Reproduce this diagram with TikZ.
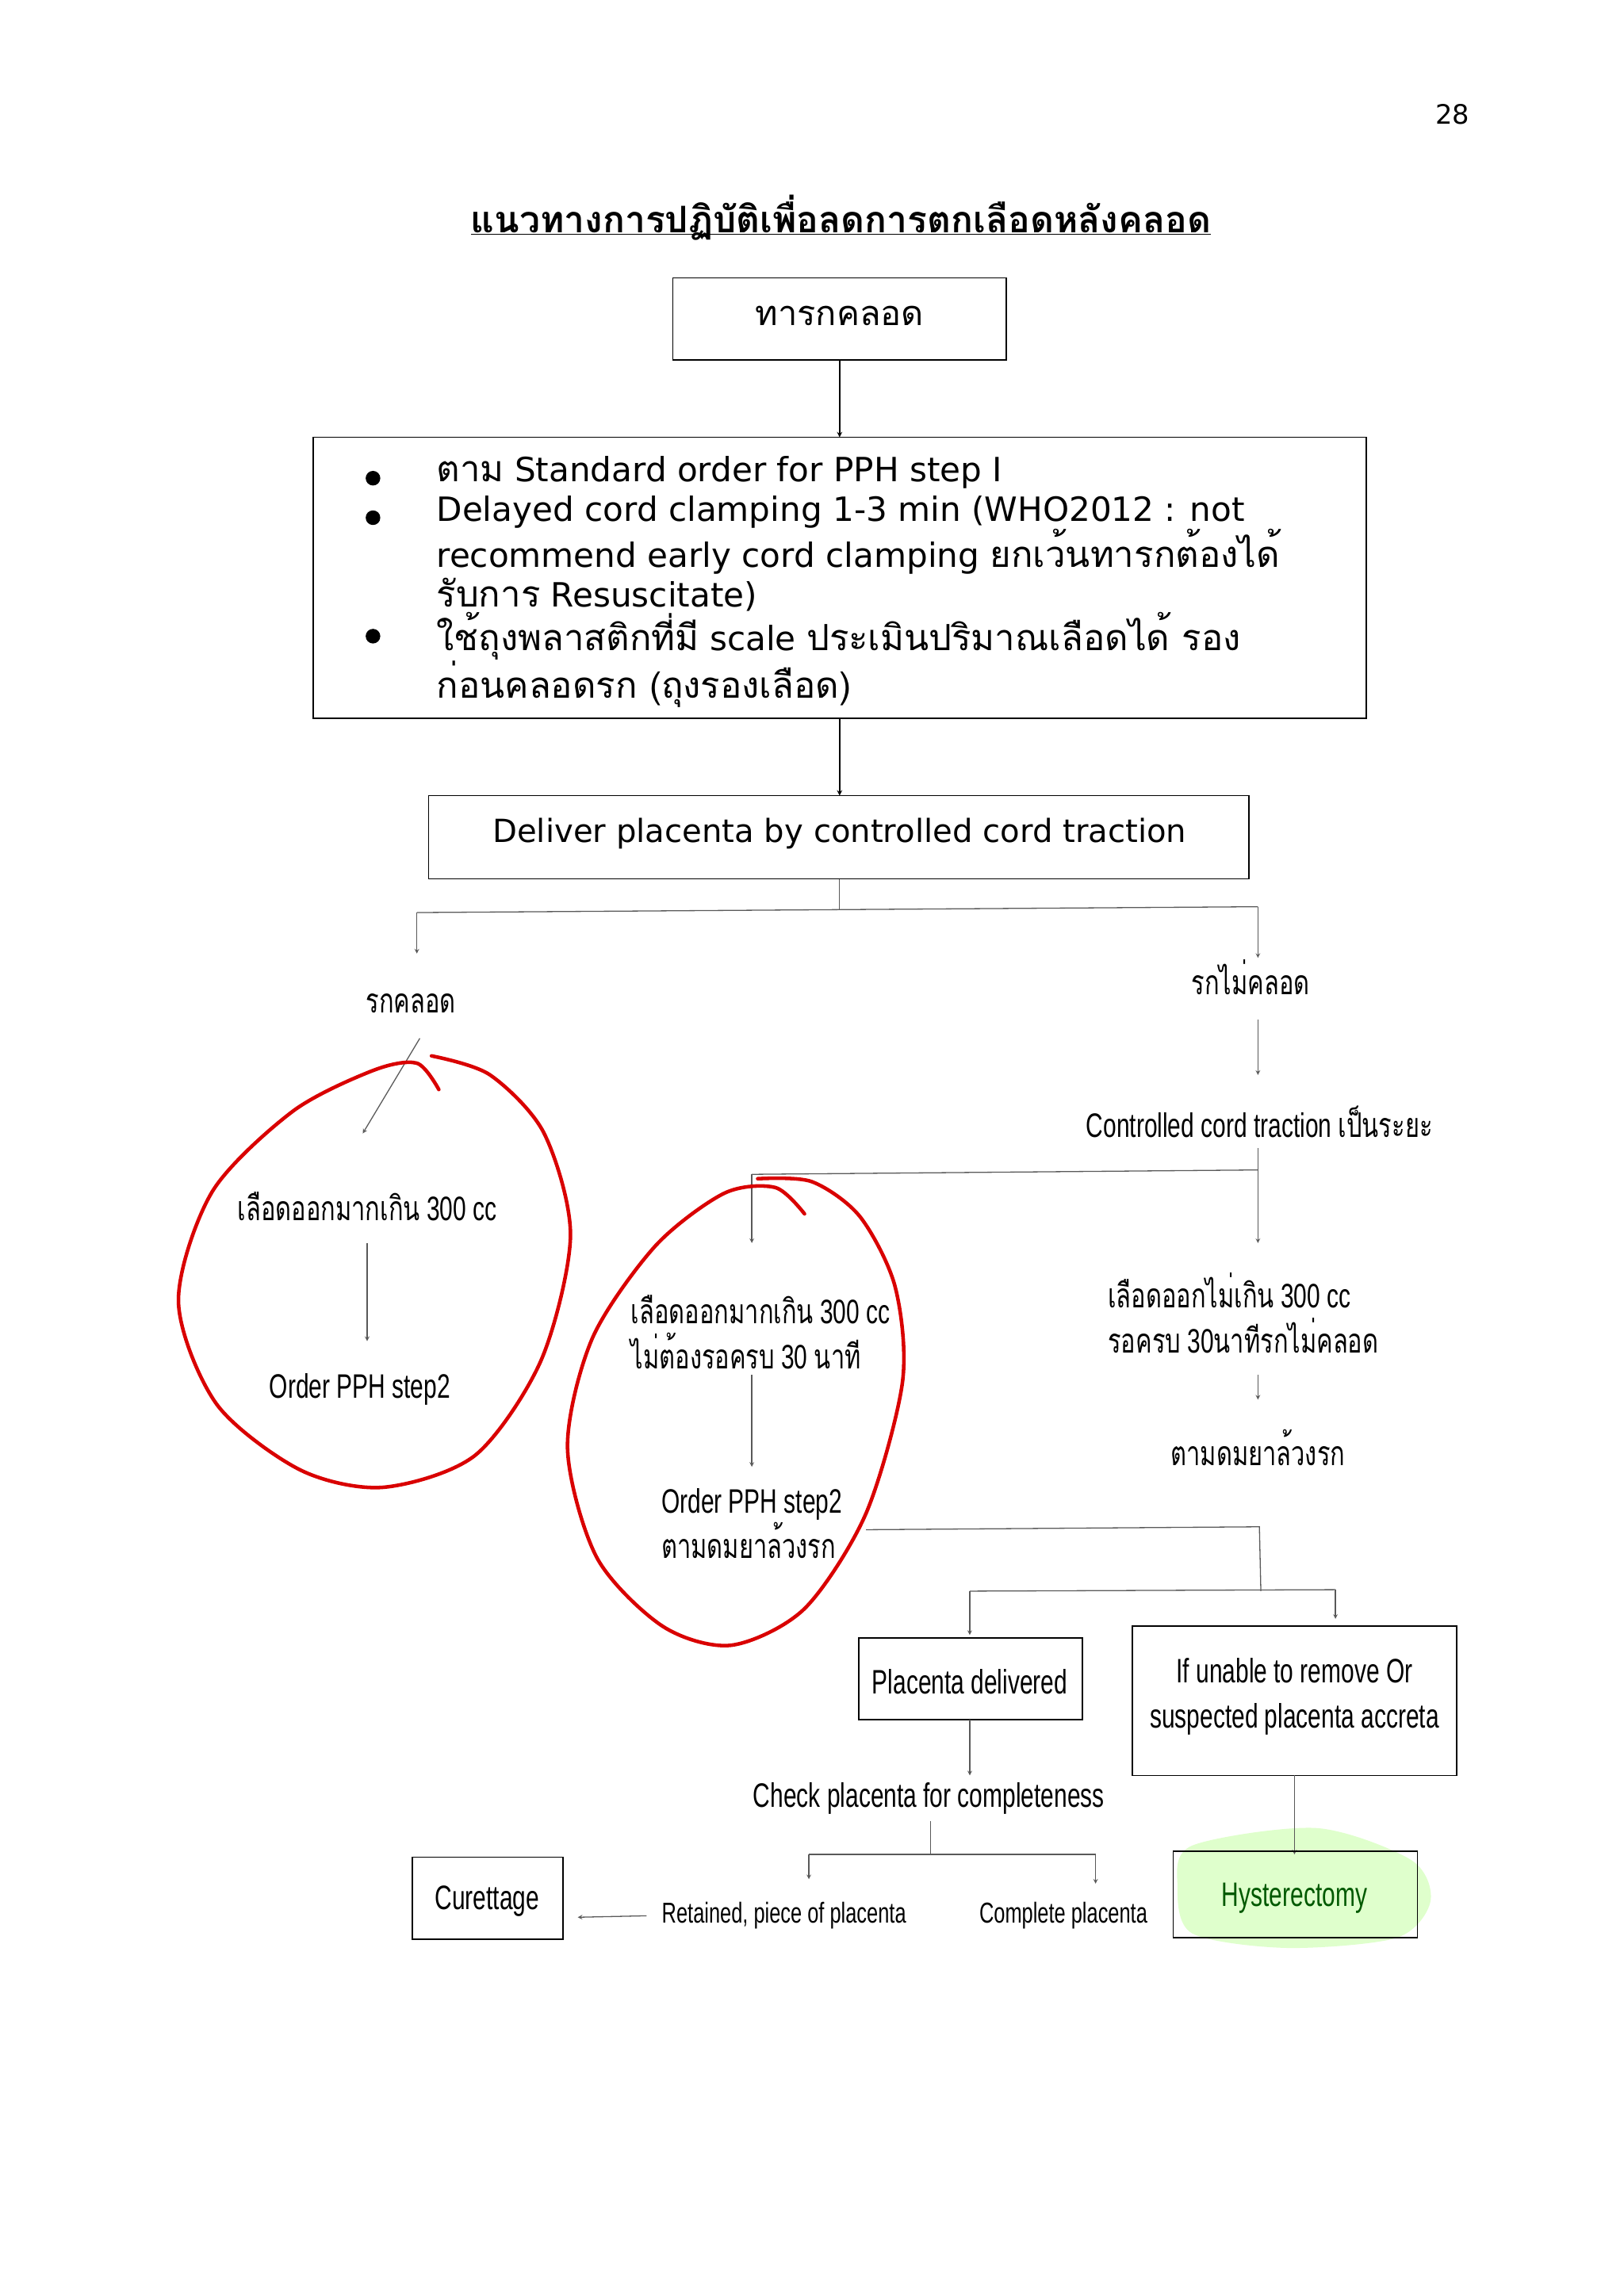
\documentclass[tikz,border=0pt]{standalone}
\usepackage{fontspec}
\setmainfont{DejaVu Sans}
\IfFontExistsTF{Loma}{\newfontfamily\thaiF[Scale=1.08]{Loma}\newfontfamily\thaiC[FakeStretch=0.72]{Loma}}{\IfFontExistsTF{Garuda}{\newfontfamily\thaiF{Garuda}\newfontfamily\thaiC[FakeStretch=0.72]{Garuda}}{\newfontfamily\thaiF{DejaVu Sans}\newfontfamily\thaiC[FakeStretch=0.72]{DejaVu Sans}}}
\newfontfamily\cond[FakeStretch=0.7]{Liberation Sans}
\newcommand{\tht}[1]{{\thaiF #1}}
\newcommand{\thtc}[1]{{\thaiC #1}}
\begin{document}
\begin{tikzpicture}[x=0.05cm,y=-0.05cm,
 big/.style={font=\fontsize{31}{38.5}\selectfont},
 lab/.style={font=\cond\fontsize{33}{44}\selectfont,inner sep=1pt},
 ar/.style={->,>=stealth,gray!70!black,line width=1pt},
 arb/.style={->,>=stealth,black,line width=1.3pt},
 ln/.style={gray!70!black,line width=1pt},
 redc/.style={draw=red!85!black,line width=3.5pt,smooth,line cap=round}]
\useasboundingbox (0,0) rectangle (1110,1570);
\node[font=\fontsize{26}{30}\selectfont] (pg) at (993,78) {28};
\node[font=\thaiF\bfseries\fontsize{33}{40}\selectfont] (title) at (575,147) {\underbar{แนวทางการปฏิบัติเพื่อลดการตกเลือดหลังคลอด}};
\draw[line width=1.3pt] (460,190) rectangle (688,246);
\node[big] (b1) at (574,216) {\tht{ทารกคลอด}};
\coordinate (b1s) at (574,246);
\coordinate (b2n) at (574,299);
\draw[arb] (b1s) -- (b2n);
\draw[line width=1.3pt] (214,299) rectangle (934,491);
\foreach \y in {327,354,435} \fill (255,\y) circle (5);
\node[font=\fontsize{32.5}{38.5}\selectfont,anchor=west,align=left] (b2) at (296,398) {\tht{ตาม} Standard order for PPH step I\\
Delayed cord clamping 1-3 min (WHO2012 : not\\
recommend early cord clamping \tht{ยกเว้นทารกต้องได้}\\
\tht{รับการ} Resuscitate)\\
\tht{ใช้ถุงพลาสติกที่มี} scale \tht{ประเมินปริมาณเลือดได้ รอง}\\
\tht{ก่อนคลอดรก (ถุงรองเลือด)}};
\coordinate (b2s) at (574,491);
\coordinate (b3n) at (574,544);
\draw[arb] (b2s) -- (b3n);
\draw[line width=1.3pt] (293,544) rectangle (854,601);
\node[big] (b3) at (574,570) {Deliver placenta by controlled cord traction};
\coordinate (b3s) at (574,601);
\coordinate (j1) at (574,622);
\coordinate (jl) at (285,624);
\coordinate (jr) at (860,620);
\draw[ln] (b3s) -- (j1);
\draw[ln] (jl) -- (jr);
\node[lab] (rk) at (281,686) {\thtc{รกคลอด}};
\node[lab] (rnk) at (855,668) {\thtc{รกไม่คลอด}};
\draw[ar] (jl) -- (285,652);
\draw[ar] (jr) -- (860,655);
\node[lab] (l1) at (251,825) {\thtc{เลือดออกมากเกิน} 300 cc};
\node[lab] (l2) at (246,950) {Order PPH step2};
\draw[ar] (287,710) -- (248,775);
\draw[ar] (251,850) -- (251,917);
\node[lab] (cct) at (861,767) {Controlled cord traction \thtc{เป็นระยะ}};
\draw[ar] (860,697) -- (860,735);
\coordinate (j2) at (860,800);
\coordinate (j2l) at (514,803);
\draw[ln] (860,785) -- (j2);
\draw[ln] (j2l) -- (j2);
\draw[ar] (j2l) -- (514,850);
\draw[ar] (j2) -- (860,850);
\node[lab,align=left] (m1) at (520,911) {\thtc{เลือดออกมากเกิน} 300 cc\\\thtc{ไม่ต้องรอครบ} 30 \thtc{นาที}};
\draw[ar] (514,940) -- (514,1003);
\node[lab,align=left] (m2) at (514,1042) {Order PPH step2\\\thtc{ตามดมยาล้วงรก}};
\node[lab,align=left] (r1) at (850,898) {\thtc{เลือดออกไม่เกิน} 300 cc\\\thtc{รอครบ} 30\thtc{นาทีรกไม่คลอด}};
\draw[ar] (860,940) -- (860,957);
\node[lab] (r2) at (860,990) {\thtc{ตามดมยาล้วงรก}};
\coordinate (j3) at (861,1044);
\coordinate (j4) at (862,1088);
\draw[ln] (592,1046) -- (j3) -- (j4);
\draw[ln] (663,1088) -- (913,1087);
\draw[ar] (663,1088) -- (663,1118);
\draw[ar] (913,1087) -- (913,1107);
\draw[line width=1.2pt] (587,1120) rectangle (740,1176);
\node[lab] (pd) at (663,1150) {Placenta delivered};
\draw[line width=1.2pt] (774,1112) rectangle (996,1214);
\node[lab,align=center] (ua) at (885,1160) {If unable to remove Or\\suspected placenta accreta};
\draw[ar] (663,1176) -- (663,1214);
\node[lab] (chk) at (635,1230) {Check placenta for completeness};
\draw[ln] (636,1245) -- (636,1268);
\draw[ln] (553,1268) -- (749,1268);
\draw[ar] (553,1268) -- (553,1285);
\draw[ar] (749,1268) -- (749,1288);
\node[lab,font=\cond\fontsize{28}{30}\selectfont] (ret) at (536,1310) {Retained, piece of placenta};
\node[lab,font=\cond\fontsize{28}{30}\selectfont] (comp) at (727,1310) {Complete placenta};
\draw[ar] (442,1310) -- (395,1311);
\draw[line width=1.2pt] (282,1270) rectangle (385,1326);
\node[lab] (cur) at (333,1300) {Curettage};
\fill[green!50!lime!25!white,opacity=0.8] plot[smooth cycle] coordinates {(815,1262) (900,1250) (965,1272) (978,1300) (955,1325) (880,1332) (815,1322) (805,1290)};
\draw[arb,gray!70!black,line width=1pt] (885,1214) -- (885,1268);
\draw[line width=1.2pt] (802,1266) rectangle (969,1325);
\node[lab,text=green!35!black] (hy) at (885,1298) {Hysterectomy};
\draw[redc] plot coordinates {(300,745) (285,727) (255,732) (200,760) (145,815) (122,890) (148,960) (205,1005) (262,1017) (325,995) (370,930) (390,845) (372,775) (335,735) (295,722)};
\draw[redc] plot coordinates {(550,830) (530,812) (495,816) (448,852) (405,915) (388,990) (408,1065) (453,1112) (500,1125) (550,1100) (592,1035) (617,945) (612,880) (588,832) (555,808) (518,806)};
\end{tikzpicture}
\end{document}
